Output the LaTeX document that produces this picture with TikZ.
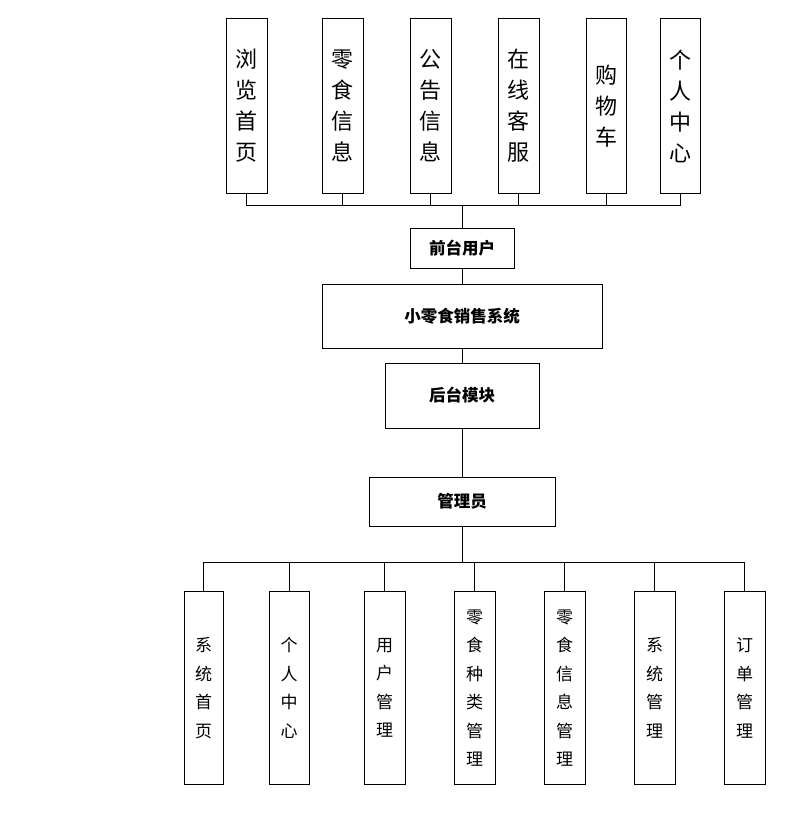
\documentclass[tikz,border=0pt]{standalone}
\usepackage{fontspec}
\newfontfamily\cjk{Noto Sans CJK SC}
\begin{document}
\begin{tikzpicture}[x=1pt,y=-1pt,
  box/.style={draw,line width=1pt,inner sep=0pt,font=\cjk},
  top/.style={box,align=center,font=\cjk\fontsize{22}{31}\selectfont},
  bot/.style={box,align=center,font=\cjk\fontsize{17}{28.5}\selectfont},
  mid/.style={box,font=\cjk\bfseries\fontsize{16.5}{18}\selectfont},
  ln/.style={line width=1pt}]
\useasboundingbox (0,0) rectangle (811,814);
% top row
\foreach \n/\x/\w/\t in {t1/246.5/41/浏\\览\\首\\页, t2/342.5/41/零\\食\\信\\息, t3/430.5/41/公\\告\\信\\息, t4/518.5/41/在\\线\\客\\服, t5/606/40/购\\物\\车, t6/680/40/个\\人\\中\\心}
  \node[top,minimum width=\w pt,minimum height=175pt,anchor=north] (\n) at (\x,18) {\t};
\node[mid,minimum width=104pt,minimum height=40pt] (qt) at (462,248) {前台用户};
\node[mid,minimum width=280pt,minimum height=64pt] (sys) at (462,316) {小零食销售系统};
\node[mid,minimum width=154pt,minimum height=65pt] (ht) at (462,395.5) {后台模块};
\node[mid,minimum width=186pt,minimum height=49pt] (gly) at (462,501.5) {管理员};
\foreach \n/\x/\w/\t in {b1/203.5/39/系\\统\\首\\页, b2/289/40/个\\人\\中\\心, b3/384.5/41/用\\户\\管\\理, b4/474.5/41/零\\食\\种\\类\\管\\理, b5/564.5/41/零\\食\\信\\息\\管\\理, b6/654.5/41/系\\统\\管\\理, b7/744.5/41/订\\单\\管\\理}
  \node[bot,minimum width=\w pt,minimum height=193pt,anchor=north] (\n) at (\x,591) {\t};
% connectors
\coordinate (tb) at (462,205);
\draw[ln] (t1.south) |- (t6.south |- tb) -- (t6.south);
\foreach \n in {t2,t3,t4,t5} \draw[ln] (\n.south) -- (\n.south |- tb);
\draw[ln] (tb) -- (qt.north);
\draw[ln] (qt) -- (sys);
\draw[ln] (sys) -- (ht);
\draw[ln] (ht) -- (gly);
\coordinate (bb) at (462,562);
\draw[ln] (gly.south) -- (bb);
\draw[ln] (b1.north) |- (b7.north |- bb) -- (b7.north);
\foreach \n in {b2,b3,b4,b5,b6} \draw[ln] (\n.north) -- (\n.north |- bb);
\end{tikzpicture}
\end{document}
